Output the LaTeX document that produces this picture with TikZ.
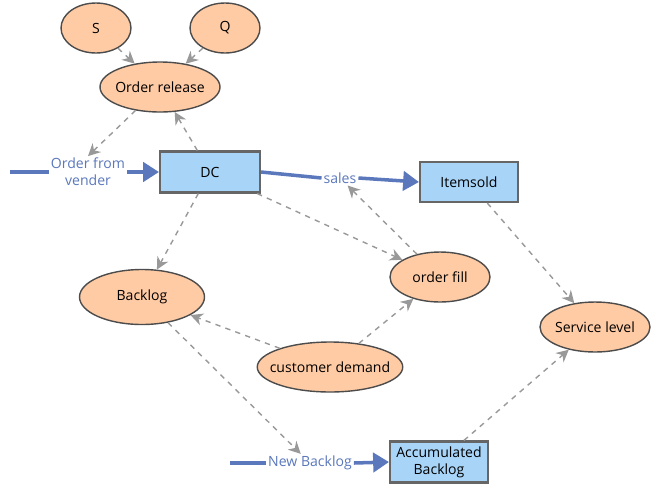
\documentclass[tikz,border=0pt]{standalone}
\usepackage{fontspec}
\setmainfont{Open Sans}
\usetikzlibrary{shapes.geometric,arrows.meta}
\definecolor{ell}{HTML}{FFCBA4}
\definecolor{box}{HTML}{A8D4F8}
\definecolor{flow}{HTML}{5B78BC}
\begin{document}
\begin{tikzpicture}[x=0.02cm,y=-0.02cm,font=\footnotesize,
 e/.style={ellipse,draw=black!70,fill=ell,thick,inner xsep=-5pt,inner ysep=0pt},
 b/.style={rectangle,draw=black!60,fill=box,very thick,inner sep=0pt,align=center},
 lab/.style={text=flow,align=center,inner sep=1pt,fill=white},
 d/.style={draw=black!40,dashed,thick,-{Stealth[length=7pt,width=7pt]}},
 f/.style={draw=flow,line width=2pt,-{Triangle[length=9pt,width=11pt]}},
 fl/.style={draw=flow,line width=2pt}]
\useasboundingbox (0,0) rectangle (662,484);
\node[e,minimum width=1.4cm,minimum height=1cm] (S) at (96,28) {S};
\node[e,minimum width=1.4cm,minimum height=1cm] (Q) at (225,28) {Q};
\node[e,minimum width=2.4cm,minimum height=1cm] (OR) at (160,87) {Order release};
\node[b,minimum width=2cm,minimum height=0.82cm] (DC) at (210,172) {DC};
\node[b,minimum width=1.96cm,minimum height=0.8cm] (IS) at (469,182) {Itemsold};
\node[e,minimum width=2cm,minimum height=1cm] (OF) at (440,277) {order fill};
\node[e,minimum width=2.5cm,minimum height=1.1cm] (BL) at (142,297) {Backlog};
\node[e,minimum width=2.2cm,minimum height=1cm] (SL) at (595,327) {Service level};
\node[e,minimum width=2.4cm,minimum height=1cm] (CD) at (330,367) {customer demand};
\node[b,minimum width=1.96cm,minimum height=0.82cm] (AB) at (439,462) {Accumulated\\Backlog};
\node[lab] (OV) at (88,172) {Order from\\vender};
\node[lab] (SA) at (340,178) {sales};
\node[lab] (NB) at (310,463) {New Backlog};
\coordinate (s1) at (10,172);
\coordinate (s2) at (230,463);
\draw[fl] (s1) -- (OV.west);
\draw[f] (OV.east) -- (DC.west);
\draw[fl] (DC.east) -- (SA.west);
\draw[f] (SA.east) -- (IS.west);
\draw[fl] (s2) -- (NB.west);
\draw[f] (NB.east) -- (AB.west);
\draw[d] (S) -- (OR);
\draw[d] (Q) -- (OR);
\draw[d] (OR) -- (OV.north);
\draw[d] (DC) -- (OR);
\draw[d] (DC) -- (BL);
\draw[d] (DC) -- (OF);
\draw[d] (OF) -- (SA);
\draw[d] (IS) -- (SL);
\draw[d] (CD) -- (BL);
\draw[d] (CD) -- (OF);
\draw[d] (BL) -- (NB);
\draw[d] (AB) -- (SL);
\end{tikzpicture}
\end{document}
